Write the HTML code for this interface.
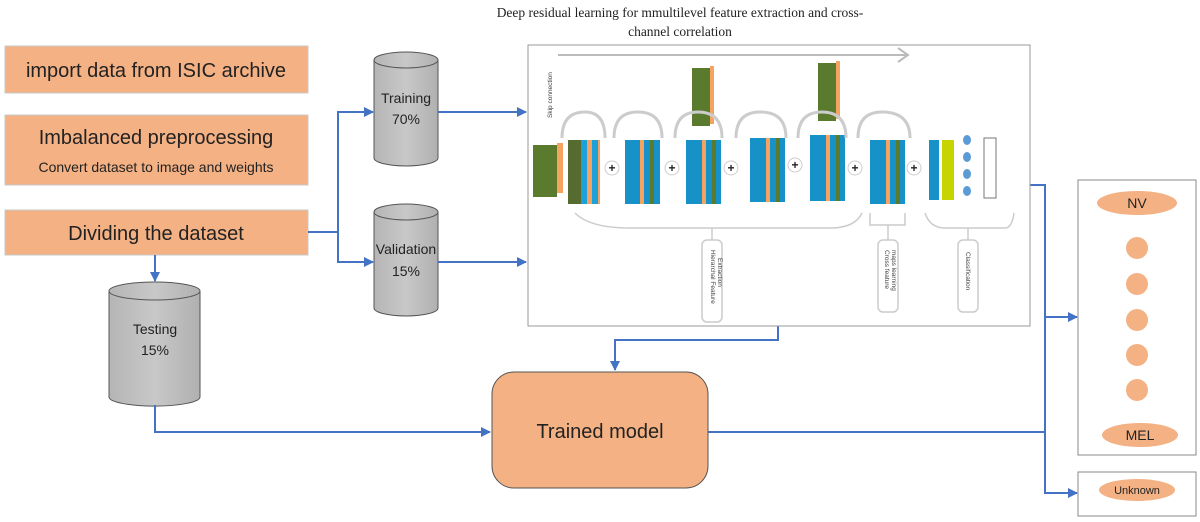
<!DOCTYPE html>
<html><head><meta charset="utf-8"><style>body{margin:0;background:#fff}svg{display:block}</style></head><body>
<svg width="1200" height="522" viewBox="0 0 1200 522" xmlns="http://www.w3.org/2000/svg" font-family="Liberation Sans, sans-serif">
<defs>
<marker id="a" markerWidth="10" markerHeight="10" refX="9" refY="5" orient="auto" markerUnits="userSpaceOnUse"><path d="M0,0 L10,5 L0,10 z" fill="#4472c4"/></marker>
<linearGradient id="cyl" x1="0" x2="1"><stop offset="0" stop-color="#b5b5b5"/><stop offset="0.5" stop-color="#c8c8c8"/><stop offset="1" stop-color="#b0b0b0"/></linearGradient>
</defs>
<rect x="5" y="46" width="303" height="47" fill="#f4b183" stroke="#c9c9c9"/>
<text x="156" y="77" font-size="20" text-anchor="middle" fill="#222">import data from ISIC archive</text>
<rect x="5" y="115" width="303" height="70" fill="#f4b183" stroke="#c9c9c9"/>
<text x="156" y="144" font-size="20" text-anchor="middle" fill="#222">Imbalanced preprocessing</text>
<text x="156" y="172" font-size="14" text-anchor="middle" fill="#222">Convert dataset to image and weights</text>
<rect x="5" y="210" width="303" height="45" fill="#f4b183" stroke="#c9c9c9"/>
<text x="156" y="240" font-size="20" text-anchor="middle" fill="#222">Dividing the dataset</text>
<g stroke="#555" stroke-width="1" fill="url(#cyl)">
<path d="M374,60 v98 a32,8 0 0 0 64,0 v-98"/><ellipse cx="406" cy="60" rx="32" ry="8"/>
<path d="M374,212 v96 a32,8 0 0 0 64,0 v-96"/><ellipse cx="406" cy="212" rx="32" ry="8"/>
<path d="M109,291 v106 a45,9 0 0 0 91,0 v-106"/><ellipse cx="154.5" cy="291" rx="45.5" ry="9"/>
</g>
<text x="406" y="103" font-size="14" text-anchor="middle" fill="#222">Training</text>
<text x="406" y="124" font-size="14" text-anchor="middle" fill="#222">70%</text>
<text x="406" y="254" font-size="14" text-anchor="middle" fill="#222">Validation</text>
<text x="406" y="276" font-size="14" text-anchor="middle" fill="#222">15%</text>
<text x="155" y="334" font-size="14" text-anchor="middle" fill="#222">Testing</text>
<text x="155" y="355" font-size="14" text-anchor="middle" fill="#222">15%</text>
<g stroke="#4472c4" stroke-width="2" fill="none">
<path d="M308,232 H338 V112 H373" marker-end="url(#a)"/>
<path d="M338,232 V262 H373" marker-end="url(#a)"/>
<path d="M438,112 H526" marker-end="url(#a)"/>
<path d="M438,262 H526" marker-end="url(#a)"/>
<path d="M155,255 V281" marker-end="url(#a)"/>
<path d="M778,326 V340 H615 V370" marker-end="url(#a)"/>
<path d="M155,405 V432 H490" marker-end="url(#a)"/>
<path d="M708,432 H1045"/>
<path d="M1030,185 H1045 V493 H1077" marker-end="url(#a)"/>
<path d="M1045,317 H1077" marker-end="url(#a)"/>
</g>
<rect x="492" y="372" width="216" height="116" rx="22" fill="#f4b183" stroke="#555"/>
<text x="600" y="438" font-size="20" text-anchor="middle" fill="#222">Trained model</text>
<text x="680" y="17" font-size="13.5" text-anchor="middle" font-family="Liberation Serif, serif" fill="#222">Deep residual learning for mmultilevel feature extraction and cross-</text>
<text x="680" y="36" font-size="13.5" text-anchor="middle" font-family="Liberation Serif, serif" fill="#222">channel correlation</text>
<rect x="528" y="45" width="502" height="281" fill="#fff" stroke="#999"/>
<path d="M558,55 H908 M898,48 L908,55 L898,62" stroke="#bbb" stroke-width="2" fill="none"/>
<rect x="533" y="145" width="24" height="52" fill="#5a7a2e"/><rect x="557" y="143" width="6" height="50" fill="#f4a460"/>
<rect x="568" y="140" width="13" height="64" fill="#556b2f"/><rect x="581" y="140" width="6" height="64" fill="#1ea0d8"/><rect x="587" y="140" width="5" height="64" fill="#f4a460"/><rect x="592" y="140" width="6" height="64" fill="#1ea0d8"/><rect x="598" y="140" width="2" height="64" fill="#f4a460"/>
<rect x="625" y="140" width="35" height="64" fill="#1792c8"/><rect x="640" y="140" width="4" height="64" fill="#f4a460"/><rect x="650" y="140" width="4" height="64" fill="#5a7a2e"/>
<rect x="686" y="140" width="35" height="64" fill="#1792c8"/><rect x="702" y="140" width="4" height="64" fill="#f4a460"/><rect x="712" y="140" width="4" height="64" fill="#5a7a2e"/>
<rect x="750" y="138" width="35" height="64" fill="#1792c8"/><rect x="766" y="138" width="4" height="64" fill="#f4a460"/><rect x="776" y="138" width="4" height="64" fill="#5a7a2e"/>
<rect x="810" y="135" width="35" height="66" fill="#1792c8"/><rect x="826" y="135" width="4" height="66" fill="#f4a460"/><rect x="836" y="135" width="4" height="66" fill="#5a7a2e"/>
<rect x="870" y="140" width="35" height="64" fill="#1792c8"/><rect x="886" y="140" width="4" height="64" fill="#f4a460"/><rect x="896" y="140" width="4" height="64" fill="#5a7a2e"/>
<rect x="692" y="68" width="18" height="58" fill="#5a7a2e"/><rect x="710" y="66" width="4" height="58" fill="#f4a460"/>
<rect x="818" y="63" width="18" height="58" fill="#5a7a2e"/><rect x="836" y="61" width="4" height="58" fill="#f4a460"/>
<rect x="929" y="140" width="10" height="60" fill="#1792c8"/><rect x="942" y="140" width="12" height="60" fill="#c8d400"/>
<g fill="#5b9bd5"><ellipse cx="967" cy="140" rx="4" ry="5"/><ellipse cx="967" cy="157" rx="4" ry="5"/><ellipse cx="967" cy="174" rx="4" ry="5"/><ellipse cx="967" cy="191" rx="4" ry="5"/></g>
<rect x="984" y="138" width="12" height="60" fill="none" stroke="#777"/>
<g fill="none" stroke="#ccc" stroke-width="3">
<path d="M562,138 Q562,112 585,112 Q605,112 605,138"/>
<path d="M614,138 Q614,112 638,112 Q662,112 662,138"/>
<path d="M675,138 Q675,112 698,112 Q722,112 722,138"/>
<path d="M736,138 Q736,112 760,112 Q786,112 786,138"/>
<path d="M798,138 Q798,112 822,112 Q846,112 846,138"/>
<path d="M858,138 Q858,112 882,112 Q910,112 910,138"/>
</g>
<g fill="#fff" stroke="#ccc"><circle cx="612" cy="168" r="7"/><circle cx="672" cy="168" r="7"/><circle cx="731" cy="168" r="7"/><circle cx="795" cy="165" r="7"/><circle cx="855" cy="168" r="7"/><circle cx="914" cy="168" r="7"/></g>
<g font-size="12" text-anchor="middle" fill="#222" font-weight="bold"><text x="612" y="172">+</text><text x="672" y="172">+</text><text x="731" y="172">+</text><text x="795" y="169">+</text><text x="855" y="172">+</text><text x="914" y="172">+</text></g>
<g fill="none" stroke="#ccc" stroke-width="1.5">
<path d="M575,213 Q590,228 630,228 H830 Q855,228 862,213"/><path d="M712,228 V240"/>
<path d="M870,213 V225 H905 V213"/><path d="M888,225 V240"/>
<path d="M925,213 Q930,228 945,228 H1005 Q1012,228 1014,213"/><path d="M968,228 V240"/>
<rect x="702" y="240" width="20" height="82" rx="5"/><rect x="878" y="240" width="20" height="72" rx="5"/><rect x="958" y="240" width="20" height="72" rx="5"/>
</g>
<g font-size="6.5" fill="#444">
<text transform="translate(711,250) rotate(90)">Hierarchal Feature</text>
<text transform="translate(718,258) rotate(90)">Extraction</text>
<text transform="translate(885,250) rotate(90)">Cross feature</text>
<text transform="translate(892,250) rotate(90)">maps learning</text>
<text transform="translate(966,252) rotate(90)">Classification</text>
<text transform="translate(552,118) rotate(-90)">Skip connection</text>
</g>
<rect x="1078" y="180" width="118" height="275" fill="#fff" stroke="#888"/>
<ellipse cx="1137" cy="203" rx="40" ry="12" fill="#f4b183"/>
<text x="1137" y="208" font-size="14" text-anchor="middle" fill="#222">NV</text>
<g fill="#f4b183"><circle cx="1137" cy="248" r="11"/><circle cx="1137" cy="284" r="11"/><circle cx="1137" cy="320" r="11"/><circle cx="1137" cy="355" r="11"/><circle cx="1137" cy="390" r="11"/></g>
<ellipse cx="1140" cy="435" rx="38" ry="12" fill="#f4b183"/>
<text x="1140" y="440" font-size="14" text-anchor="middle" fill="#222">MEL</text>
<rect x="1078" y="472" width="118" height="44" fill="#fff" stroke="#888"/>
<ellipse cx="1137" cy="490" rx="38" ry="11" fill="#f4b183"/>
<text x="1137" y="494" font-size="11" text-anchor="middle" fill="#222">Unknown</text>
</svg>
</body></html>
